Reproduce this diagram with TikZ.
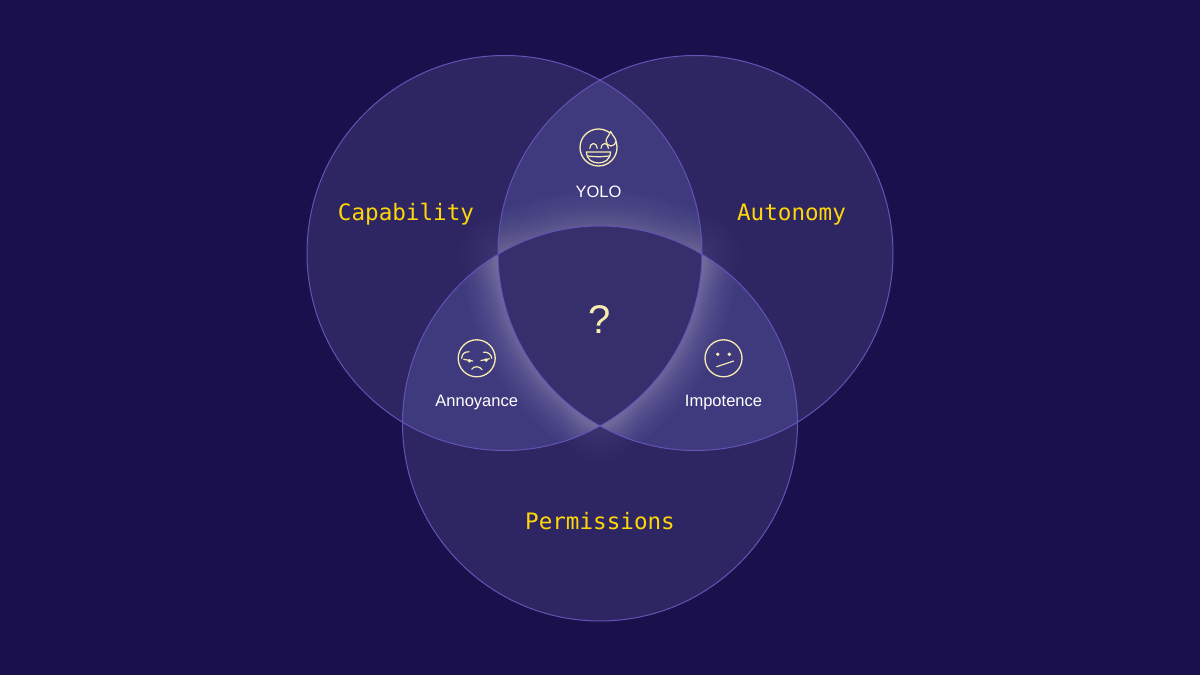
\documentclass[tikz,border=0pt]{standalone}
\usepackage{fontspec}
\usepackage{xcolor}
\usetikzlibrary{positioning}
\newfontfamily\labelfont{Liberation Sans}
\newfontfamily\setfont{DejaVu Sans Mono}
\definecolor{nightbg}{HTML}{1A104B}
\definecolor{setfill}{HTML}{2E2663}
\definecolor{lensfill}{HTML}{3F3A7E}
\definecolor{corefill}{HTML}{352F6C}
\definecolor{setedge}{HTML}{6253B5}
\definecolor{setyellow}{HTML}{FFD60A}
\definecolor{cream}{HTML}{F8EDB0}
\tikzset{
    setname/.style={text=setyellow, font=\setfont\fontsize{22.6}{26}\selectfont},
    outcome/.style={text=white, font=\labelfont\fontsize{16.5}{20}\selectfont},
    facebox/.style={circle, draw=cream, line width=1.3pt, minimum size=37pt, inner sep=0pt},
    faceline/.style={draw=cream, line width=1.2pt, line cap=round},
}
\def\leftset{(504.5,422) circle (197.5pt)}
\def\rightset{(695.5,422) circle (197.5pt)}
\def\lowerset{(600,251.5) circle (197.5pt)}

\begin{document}
\begin{tikzpicture}[x=1pt, y=1pt]
    \useasboundingbox (0,0) rectangle (1200,675);
    \fill[nightbg] (0,0) rectangle (1200,675);
    \fill[setfill] \leftset;
    \fill[setfill] \rightset;
    \fill[setfill] \lowerset;
    % pairwise overlaps
    \begin{scope}
        \clip \leftset;
        \fill[lensfill] \rightset;
        \fill[lensfill] \lowerset;
    \end{scope}
    \begin{scope}
        \clip \rightset;
        \fill[lensfill] \lowerset;
    \end{scope}
    % glow round the middle
    \foreach \r in {3,6,...,39} {
        \fill[white, opacity=0.009] (498.5,422) circle (\r pt);
        \fill[white, opacity=0.009] (701.5,422) circle (\r pt);
        \fill[white, opacity=0.009] (600,251) circle (\r pt);
    }
    \foreach \w in {2,4,7,10,13,17,21,25,30,35,41,47,54,62,70} {
        \begin{scope}
            \clip \leftset;
            \clip \rightset;
            \draw[white, opacity=0.016, line width=\w pt] \lowerset;
        \end{scope}
        \begin{scope}
            \clip \leftset;
            \clip \lowerset;
            \draw[white, opacity=0.018, line width=\w pt] \rightset;
        \end{scope}
        \begin{scope}
            \clip \rightset;
            \clip \lowerset;
            \draw[white, opacity=0.018, line width=\w pt] \leftset;
        \end{scope}
    }
    \begin{scope}
        \clip \leftset;
        \clip \rightset;
        \fill[corefill] \lowerset;
    \end{scope}
    \draw[setedge, line width=1pt] \leftset;
    \draw[setedge, line width=1pt] \rightset;
    \draw[setedge, line width=1pt] \lowerset;

    \node[setname] (capability) at (406,460.5) {Capability};
    \node[setname] (autonomy) at (791.5,460.5) {Autonomy};
    \node[setname] (permissions) at (600,154) {Permissions};
    \node[text=cream, font=\labelfont\fontsize{40}{46}\selectfont] (unknown) at (600,355) {?};

    \node[facebox] (yoloface) at (598.5,527.5) {};
    \node[outcome, below=15.5pt of yoloface] (yolo) {YOLO};
    \node[facebox] (annoyface) at (476.7,316.7) {};
    \node[outcome, below=14pt of annoyface] (annoyance) {Annoyance};
    \node[facebox] (impotface) at (723.5,316.7) {};
    \node[outcome, below=14pt of impotface] (impotence) {Impotence};

    % grinning face with the drop
    \begin{scope}[shift={(yoloface.center)}]
        \draw[faceline] (-8.7,-0.8) arc (180:0:3.7 and 4.8);
        \draw[faceline] (2.5,-0.8) arc (180:0:3.7 and 4.8);
        \draw[faceline] (-12,-4.5) -- (12,-4.5) .. controls (12,-12) and (6,-15.5) .. (0,-15.5) .. controls (-6,-15.5) and (-12,-12) .. (-12,-4.5) -- cycle;
        \draw[faceline] (-10.5,-8.5) .. controls (-4,-9.5) and (4,-9.5) .. (10.5,-8.5);
        \draw[faceline, fill=lensfill] (12.2,16) .. controls (10,11) and (7.5,9) .. (7.5,6.5) arc (180:360:5) .. controls (17.5,9) and (14.5,11) .. (12.2,16);
    \end{scope}
    % side-eye face
    \begin{scope}[shift={(annoyface.center)}]
        \draw[faceline] (-15,0) .. controls (-15,4) and (-12,7) .. (-7.7,6.5);
        \draw[faceline] (6.7,6) .. controls (10,7) and (15,4) .. (15,0);
        \draw[faceline] (-13,-1) -- (-4,-2.7);
        \draw[faceline] (4.3,-2.2) -- (12.7,-0.5);
        \fill[cream] (-7.3,-2.5) circle (1.9pt);
        \fill[cream] (9.3,-1.8) circle (1.9pt);
        \draw[faceline] (-5,-11) .. controls (-3,-7.5) and (3,-7.5) .. (5.5,-11.5);
    \end{scope}
    % flat mouth face
    \begin{scope}[shift={(impotface.center)}]
        \fill[cream] (-5.8,4) circle (1.9pt);
        \fill[cream] (5.8,4) circle (1.9pt);
        \draw[faceline] (-6.8,-8.4) -- (10,-2.8);
    \end{scope}
\end{tikzpicture}
\end{document}
